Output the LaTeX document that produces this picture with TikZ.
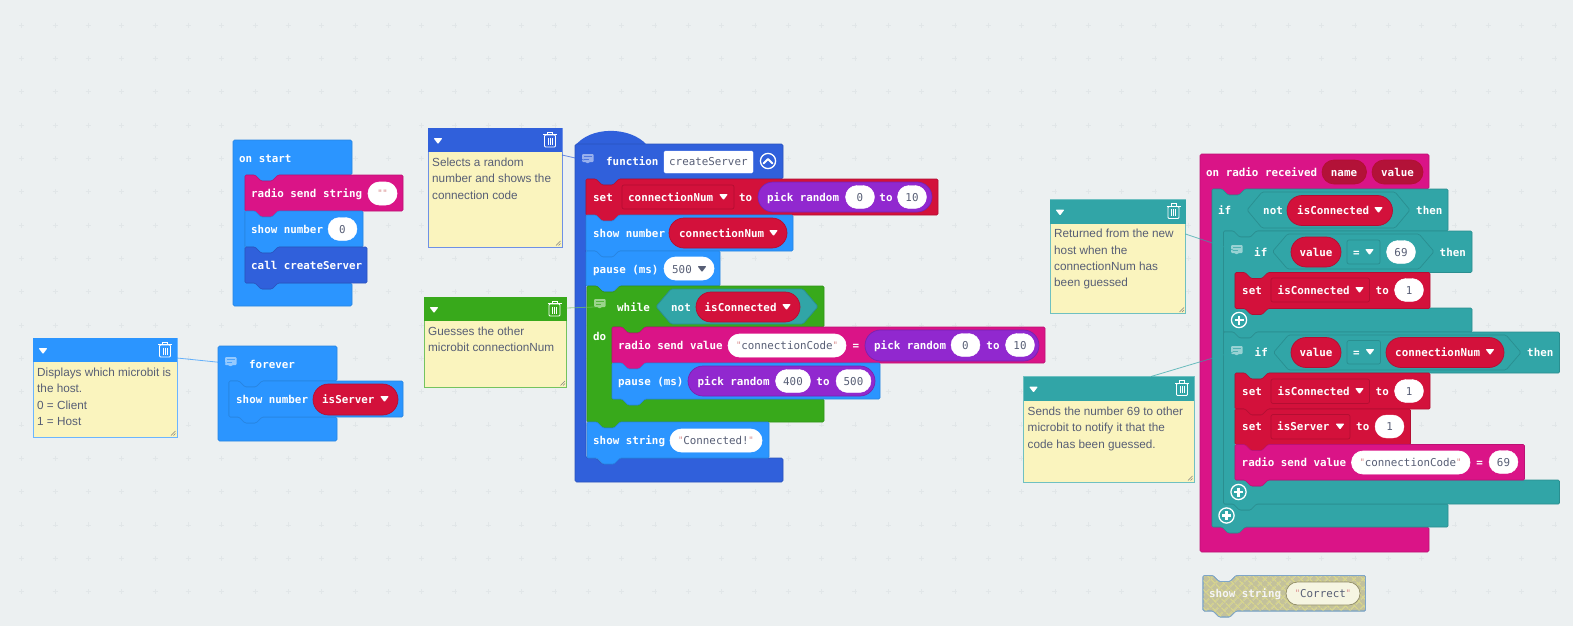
\documentclass[tikz,border=0pt]{standalone}
\usepackage{fontspec}
\setmainfont{Liberation Sans}
\newfontfamily\blockfont{DejaVu Sans Mono}
\usepackage{tikz}
\usetikzlibrary{patterns.meta}

\definecolor{canvasbg}{HTML}{ECF0F1}
\definecolor{canvasmark}{HTML}{E1E6E8}
\definecolor{basicblue}{HTML}{2B95FF}
\definecolor{basicedge}{HTML}{2784E0}
\definecolor{radiopink}{HTML}{DA1487}
\definecolor{radioedge}{HTML}{BC1174}
\definecolor{varred}{HTML}{D3113B}
\definecolor{varedge}{HTML}{B30E32}
\definecolor{argred}{HTML}{B31238}
\definecolor{funcblue}{HTML}{3060DB}
\definecolor{funcedge}{HTML}{2A52BD}
\definecolor{loopgreen}{HTML}{38A91B}
\definecolor{loopedge}{HTML}{309317}
\definecolor{mathpurple}{HTML}{9128CF}
\definecolor{mathedge}{HTML}{7A22AE}
\definecolor{logicteal}{HTML}{31A5A7}
\definecolor{logicedge}{HTML}{2A8E90}
\definecolor{notefill}{HTML}{FAF4BE}
\definecolor{fieldtext}{HTML}{575E75}
\definecolor{quotemark}{HTML}{D98A8A}
\definecolor{offblock}{HTML}{C3C19B}
\definecolor{offhatch}{HTML}{D8D68C}
\definecolor{offedge}{HTML}{7FA6C8}

\tikzset{
  basicblk/.style={fill=basicblue,draw=basicedge},
  radioblk/.style={fill=radiopink,draw=radioedge},
  varblk/.style={fill=varred,draw=varedge},
  funcblk/.style={fill=funcblue,draw=funcedge},
  loopblk/.style={fill=loopgreen,draw=loopedge},
  mathblk/.style={fill=mathpurple,draw=mathedge},
  logicblk/.style={fill=logicteal,draw=logicedge},
  argblk/.style={fill=argred,draw=varedge},
  whiteblk/.style={fill=white,draw=white},
  blocklabel/.style={anchor=west,inner sep=0pt,text=white,text height=8pt,text depth=0pt,
    font=\blockfont\fontsize{10.85}{13}\selectfont\bfseries},
  fieldlabel/.style={anchor=west,inner sep=0pt,text=fieldtext,text height=8pt,text depth=0pt,
    font=\blockfont\fontsize{10.85}{13}\selectfont},
  midlabel/.style={blocklabel,anchor=center},
  numlabel/.style={fieldlabel,anchor=center},
  notelabel/.style={anchor=north west,inner sep=0pt,text=fieldtext,align=left,
    font=\fontsize{11.75}{16.4}\selectfont},
  notelink/.style={line width=0.8pt,opacity=0.7},
}

% quotes of a string field
\newcommand{\qmark}{\textcolor{quotemark}{\makebox[5pt]{\raisebox{1pt}{\small"}}}}
\newcommand{\qtext}[1]{\qmark#1\qmark}

% statement block, with notch on top and tab below
\newcommand{\stackshape}[5]{
  \draw[#5,line width=0.6pt,rounded corners=1.2pt] (#1,#2) -- (#1+10,#2) -- (#1+16,#2+6) -- (#1+27,#2+6) -- (#1+33,#2)
    -- (#3,#2) -- (#3,#4) -- (#1+33,#4) -- (#1+27,#4+6) -- (#1+16,#4+6) -- (#1+10,#4) -- (#1,#4) -- cycle;
}
% event block: flat top, no tab
\newcommand{\hatshape}[9]{
  \draw[#9,line width=0.6pt,rounded corners=1.5pt] (#1,#2) -- (#3,#2) -- (#3,#4) -- (#5+33,#4) -- (#5+27,#4+6) -- (#5+16,#4+6) -- (#5+10,#4) -- (#5,#4)
    -- (#5,#6) -- (#5+10,#6) -- (#5+16,#6+6) -- (#5+27,#6+6) -- (#5+33,#6) -- (#7,#6) -- (#7,#8) -- (#1,#8) -- cycle;
}
% while / if block: notch on top, tab below
\newcommand{\loopshape}[9]{
  \draw[#9,line width=0.6pt,rounded corners=1.2pt] (#1,#2) -- (#1+10,#2) -- (#1+16,#2+6) -- (#1+27,#2+6) -- (#1+33,#2) -- (#3,#2) -- (#3,#4) -- (#5+33,#4) -- (#5+27,#4+6) -- (#5+16,#4+6) -- (#5+10,#4) -- (#5,#4)
    -- (#5,#6) -- (#5+10,#6) -- (#5+16,#6+6) -- (#5+27,#6+6) -- (#5+33,#6) -- (#7,#6) -- (#7,#8) -- (#1+33,#8) -- (#1+27,#8+6) -- (#1+16,#8+6) -- (#1+10,#8) -- (#1,#8) -- cycle;
}
% round field
\newcommand{\pillshape}[5]{
  \pgfmathsetmacro{\pillrad}{(#4-#2)/2}
  \draw[#5,line width=0.7pt,rounded corners=\pillrad pt] (#1,#2) rectangle (#3,#4);
}
% number field, centred
\newcommand{\numfield}[5][29]{
  \pgfmathsetmacro{\pillrad}{11.5}
  \draw[whiteblk,rounded corners=\pillrad pt] (#3-#1/2,#4-11.5) rectangle (#3+#1/2,#4+11.5);
  \node[numlabel] (#2) at (#3,#4) {#5};
}
% square dropdown
\newcommand{\dropshape}[5]{
  \draw[#5,line width=0.7pt,rounded corners=2pt] (#1,#2) rectangle (#3,#4);
}
% boolean hexagon
\newcommand{\hexshape}[5]{
  \draw[#5,line width=0.7pt,rounded corners=1.5pt] (#1,{(#2+#4)/2}) -- (#1+15,#2) -- (#3-15,#2) -- (#3,{(#2+#4)/2}) -- (#3-15,#4) -- (#1+15,#4) -- cycle;
}
\newcommand{\caretmark}[3]{
  \fill[#3,rounded corners=0.7pt] (#1-4.4,#2-2.8) -- (#1+4.4,#2-2.8) -- (#1,#2+3) -- cycle;
}
\newcommand{\commenticon}[3]{
  \fill[white,opacity=0.5,rounded corners=1pt] (#1,#2) -- (#1+11.5,#2) -- (#1+11.5,#2+8) -- (#1+7,#2+8) -- (#1+5.5,#2+10) -- (#1+4,#2+8) -- (#1,#2+8) -- cycle;
  \draw[#3,opacity=0.7,line width=0.7pt] (#1+2,#2+2.7) -- (#1+9.5,#2+2.7) (#1+2,#2+5) -- (#1+7,#2+5);
}
\newcommand{\plusmark}[2]{
  \draw[white,line width=1.3pt] (#1,#2) circle (7.6pt);
  \draw[white,line width=2.2pt] (#1-4.5,#2) -- (#1+4.5,#2) (#1,#2-4.5) -- (#1,#2+4.5);
}
\newcommand{\trashicon}[2]{
  \draw[white,line width=0.8pt,rounded corners=1pt] (#1+1.5,#2+4) rectangle (#1+12.5,#2+16);
  \draw[white,line width=0.8pt] (#1,#2+3.5) -- (#1+14,#2+3.5) (#1+4.5,#2+3.5) -- (#1+4.5,#2+1) -- (#1+9.5,#2+1) -- (#1+9.5,#2+3.5);
  \draw[white,line width=1pt] (#1+5,#2+6.5) -- (#1+5,#2+13.5) (#1+7,#2+6.5) -- (#1+7,#2+13.5) (#1+9,#2+6.5) -- (#1+9,#2+13.5);
}
% sticky note: name, x1, y1, x2, y2, header bottom, colour, text
\newcommand{\stickynote}[8]{
  \draw[fill=notefill,draw=#7!70!white,line width=0.9pt] (#2,#3) rectangle (#4,#5);
  \fill[#7] (#2,#3) rectangle (#4,#6);
  \node[notelabel] (#1) at (#2+4,#6+5.5) {#8};
  \caretmark{#2+10}{#3+13}{white}
  \trashicon{#4-19}{#3+3}
  \draw[gray,line width=0.5pt] (#4-1.5,#5-6) -- (#4-6,#5-1.5) (#4-1.5,#5-3.5) -- (#4-3.5,#5-1.5);
}

\begin{document}
\begin{tikzpicture}[x=1pt,y=-1pt]
    \useasboundingbox (0,0) rectangle (1573,626);
    \fill[canvasbg] (0,0) rectangle (1573,626);

    % canvas marks
    \foreach \gridx in {0,...,47}
      \foreach \gridy in {0,...,18}
        \draw[canvasmark,line width=0.7pt] (21.7+\gridx*33.33-2.5,-8.3+\gridy*33.33) -- ++(5,0) (21.7+\gridx*33.33,-8.3+\gridy*33.33-2.5) -- ++(0,5);

    % on start
    \hatshape{233}{140}{352}{175}{245}{283}{352}{306}{basicblk}
    \node[blocklabel] (onstart) at (239,158) {on start};
    \stackshape{245}{175}{403}{211}{radioblk}
    \node[blocklabel] (sendstring) at (251,193) {radio send string};
    \pillshape{368}{182}{397}{205}{whiteblk}
    \node[numlabel] (emptystring) at (382.5,193.5) {\qtext{}};
    \stackshape{245}{211}{363}{247}{basicblk}
    \node[blocklabel] (shownum) at (251,229) {show number};
    \numfield{shownumzero}{342.5}{229}{0}
    \stackshape{245}{247}{367}{283}{funcblk}
    \node[blocklabel] (callserver) at (251,265) {call createServer};

    % forever
    \hatshape{218}{346}{337}{381}{229}{417}{337}{441}{basicblk}
    \commenticon{225}{357}{basicblue}
    \node[blocklabel] (forever) at (249,364) {forever};
    \stackshape{229}{381}{403}{417}{basicblk}
    \node[blocklabel] (showserver) at (236,399) {show number};
    \pillshape{313}{384}{398}{415}{varblk}
    \node[blocklabel] (isserverpill) at (322,399) {isServer};
    \caretmark{384.5}{399}{white}

    % function createServer
    \fill[funcblue] (575,146) .. controls (590,126) and (630,126) .. (647,145);
    \hatshape{575}{144}{783}{179}{586}{458}{783}{482}{funcblk}
    \commenticon{582}{154}{funcblue}
    \node[blocklabel] (function) at (606,161) {function};
    \draw[whiteblk,rounded corners=1.5pt] (664,151) rectangle (753,173);
    \node[fieldlabel] (servername) at (669,161) {createServer};
    \draw[white,line width=1.3pt] (768,161) circle (7.6pt);
    \draw[white,line width=2pt,line cap=round,line join=round] (763.5,163.5) -- (768,159) -- (772.5,163.5);

    \stackshape{586}{179}{938}{215}{varblk}
    \node[blocklabel] (setnum) at (593,197) {set};
    \dropshape{622}{185}{734}{209}{varblk}
    \node[blocklabel] (setnumdrop) at (628,197) {connectionNum};
    \caretmark{723.5}{197}{white}
    \node[blocklabel] (setnumto) at (739,197) {to};
    \pillshape{758}{182}{932}{212}{mathblk}
    \node[blocklabel] (pickone) at (767,197) {pick random};
    \numfield{pickonelow}{860}{197}{0}
    \node[midlabel] (pickoneto) at (886,197) {to};
    \numfield{pickonehigh}{912}{197}{10}

    \stackshape{586}{215}{793}{251}{basicblk}
    \node[blocklabel] (shownumcode) at (593,233) {show number};
    \pillshape{669}{218}{787}{248}{varblk}
    \node[blocklabel] (numcodepill) at (679,233) {connectionNum};
    \caretmark{773.5}{233}{white}

    \stackshape{586}{251}{720}{286}{basicblk}
    \node[blocklabel] (pausefive) at (593,269) {pause (ms)};
    \pillshape{664}{257}{714}{280}{whiteblk}
    \node[fieldlabel] (pausefiveval) at (672,269) {500};
    \caretmark{702}{269}{fieldtext}

    % while loop
    \loopshape{587}{286}{824}{327}{612}{399}{824}{422}{loopblk}
    \commenticon{594}{299}{loopgreen}
    \node[blocklabel] (whilelbl) at (617,307) {while};
    \node[blocklabel] (dolbl) at (593,336) {do};
    \hexshape{656}{289}{818}{324}{fill=logicteal,draw=logicedge}
    \node[blocklabel] (whilenot) at (671,307) {not};
    \pillshape{696}{292}{800}{322}{varblk}
    \node[blocklabel] (whileconn) at (704.5,307) {isConnected};
    \caretmark{786.5}{307}{white}

    \stackshape{612}{327}{1045}{363}{radioblk}
    \node[blocklabel] (sendvalue) at (618,345) {radio send value};
    \pillshape{728}{334}{846}{357}{whiteblk}
    \node[numlabel] (sendvaluecode) at (787,345) {\qtext{connectionCode}};
    \node[midlabel] (sendvalueeq) at (856,345) {=};
    \pillshape{865}{330}{1039}{361}{mathblk}
    \node[blocklabel] (picktwo) at (874,345) {pick random};
    \numfield{picktwolow}{965.5}{345}{0}
    \node[midlabel] (picktwoto) at (993,345) {to};
    \numfield{picktwohigh}{1020}{345}{10}

    \stackshape{612}{363}{880}{399}{basicblk}
    \node[blocklabel] (pauserand) at (618,381) {pause (ms)};
    \pillshape{688}{366}{875}{396}{mathblk}
    \node[blocklabel] (pickthree) at (697.5,381) {pick random};
    \numfield[35]{pickthreelow}{793}{381}{400}
    \node[midlabel] (pickthreeto) at (823,381) {to};
    \numfield[35]{pickthreehigh}{853.5}{381}{500}

    \stackshape{587}{422}{769}{458}{basicblk}
    \node[blocklabel] (showconn) at (593,440) {show string};
    \pillshape{670}{429}{762}{452}{whiteblk}
    \node[numlabel] (showconnval) at (716,440) {\qtext{Connected!}};

    % on radio received
    \hatshape{1200}{154}{1429}{189}{1212}{527}{1429}{552}{radioblk}
    \node[blocklabel] (onradio) at (1206,172) {on radio received};
    \pillshape{1322}{160}{1366.5}{184}{argblk}
    \node[midlabel] (argname) at (1344,172) {name};
    \pillshape{1372}{160}{1423}{184}{argblk}
    \node[midlabel] (argvalue) at (1397.5,172) {value};

    % outer if
    \loopshape{1212}{189}{1448}{231}{1223.5}{504}{1448}{527}{logicblk}
    \node[blocklabel] (ifouter) at (1218,210) {if};
    \hexshape{1247}{192}{1410}{228}{logicblk}
    \node[blocklabel] (ifnot) at (1263,210) {not};
    \pillshape{1287}{195.5}{1392.5}{225.5}{varblk}
    \node[blocklabel] (ifconn) at (1297,210) {isConnected};
    \caretmark{1378.5}{210}{white}
    \node[blocklabel] (thenouter) at (1416,210) {then};
    \plusmark{1226.5}{515.5}

    % first inner if
    \loopshape{1223.5}{231}{1472}{272.5}{1235}{308}{1472}{332}{logicblk}
    \commenticon{1231}{245}{logicteal}
    \node[blocklabel] (ifguess) at (1254,252) {if};
    \hexshape{1272.5}{234}{1434}{269}{logicblk}
    \pillshape{1291}{237}{1341}{267}{varblk}
    \node[midlabel] (guessvalue) at (1316,252) {value};
    \dropshape{1347}{240}{1380}{264}{logicblk}
    \node[blocklabel] (guesseq) at (1353,252) {=};
    \caretmark{1369.5}{252}{white}
    \numfield{guessnum}{1401}{252}{69}
    \node[blocklabel] (thenguess) at (1439.5,252) {then};
    \stackshape{1235}{272.5}{1430}{308.5}{varblk}
    \node[blocklabel] (setconn) at (1242,290) {set};
    \dropshape{1271}{278}{1369.5}{302}{varblk}
    \node[blocklabel] (setconndrop) at (1277.5,290) {isConnected};
    \caretmark{1359.5}{290}{white}
    \node[blocklabel] (setconnto) at (1375.5,290) {to};
    \numfield{setconnval}{1409}{290}{1}
    \plusmark{1239}{320}

    % second inner if
    \loopshape{1223.5}{332}{1559.5}{373}{1235}{480}{1559.5}{504}{logicblk}
    \commenticon{1231}{346}{logicteal}
    \node[blocklabel] (ifcode) at (1254.5,352) {if};
    \hexshape{1273.5}{335}{1521}{370}{logicblk}
    \pillshape{1291}{337.5}{1341}{367.5}{varblk}
    \node[midlabel] (codevalue) at (1316,352) {value};
    \dropshape{1347}{340.5}{1380.5}{364}{logicblk}
    \node[blocklabel] (codeeq) at (1353,352) {=};
    \caretmark{1370}{352}{white}
    \pillshape{1386}{337.5}{1504}{367.5}{varblk}
    \node[blocklabel] (codenum) at (1395,352) {connectionNum};
    \caretmark{1490}{352}{white}
    \node[blocklabel] (thencode) at (1527,352) {then};

    \stackshape{1235}{373}{1430}{409}{varblk}
    \node[blocklabel] (setconntwo) at (1242,391) {set};
    \dropshape{1271}{379}{1369.5}{403.5}{varblk}
    \node[blocklabel] (setconntwodrop) at (1277.5,391) {isConnected};
    \caretmark{1359.5}{391}{white}
    \node[blocklabel] (setconntwoto) at (1375.5,391) {to};
    \numfield{setconntwoval}{1409}{391}{1}

    \stackshape{1235}{409}{1410.5}{444.5}{varblk}
    \node[blocklabel] (setserver) at (1242,426.5) {set};
    \dropshape{1271}{414.5}{1350}{439}{varblk}
    \node[blocklabel] (setserverdrop) at (1277,426.5) {isServer};
    \caretmark{1340}{426.5}{white}
    \node[blocklabel] (setserverto) at (1356,426.5) {to};
    \numfield{setserverval}{1389.5}{426.5}{1}

    \stackshape{1235}{444.5}{1524.5}{480}{radioblk}
    \node[blocklabel] (sendnine) at (1241.5,462) {radio send value};
    \pillshape{1351.5}{451}{1470}{474}{whiteblk}
    \node[numlabel] (sendninecode) at (1410.5,462) {\qtext{connectionCode}};
    \node[midlabel] (sendnineeq) at (1479.5,462) {=};
    \numfield{sendnineval}{1503.5}{462}{69}
    \plusmark{1238.5}{492}

    % disabled show string
    \stackshape{1203}{575.5}{1365.5}{611}{fill=offblock,draw=offedge}
    \stackshape{1203}{575.5}{1365.5}{611}{pattern={Lines[angle=45,distance=6.5pt,line width=1.2pt]},pattern color=offhatch,draw=offedge}
    \stackshape{1203}{575.5}{1365.5}{611}{pattern={Lines[angle=-45,distance=6.5pt,line width=1.2pt]},pattern color=offhatch,draw=offedge}
    \node[blocklabel,text=white!92!gray] (showcorrect) at (1209,593) {show string};
    \draw[fill=white!92!olive,draw=gray!70!olive,line width=0.7pt,rounded corners=11.5pt] (1286,582) rectangle (1360,605);
    \node[numlabel] (showcorrectval) at (1323,593) {\qtext{Correct}};

    % notes
    \stickynote{hostnote}{33}{338}{177}{437}{362}{basicblue}{Displays which microbit is\\the host.\\0 = Client\\1 = Host}
    \stickynote{servernote}{428}{128}{562}{247}{152}{funcblue}{Selects a random\\number and shows the\\connection code}
    \stickynote{guessnote}{424}{297}{566.5}{387}{321}{loopgreen}{Guesses the other\\microbit connectionNum}
    \stickynote{returnnote}{1050}{199.5}{1185.5}{313.5}{223.5}{logicteal}{Returned from the new\\host when the\\connectionNum has\\been guessed}
    \stickynote{sendnote}{1023.5}{376.5}{1194}{482}{401}{logicteal}{Sends the number 69 to other\\microbit to notify it that the\\code has been guessed.}

    % comment links
    \coordinate (hostlink) at (177,358);
    \coordinate (forevericon) at (226,363);
    \coordinate (serverlink) at (562,155);
    \coordinate (functionicon) at (584,160);
    \coordinate (guesslink) at (566.5,308);
    \coordinate (whileicon) at (595,307);
    \coordinate (returnlink) at (1185.5,234);
    \coordinate (guessicon) at (1233,250);
    \coordinate (sendlink) at (1151,376.5);
    \coordinate (codeicon) at (1233,352);
    \draw[notelink,basicblue] (hostlink) -- (forevericon);
    \draw[notelink,funcblue] (serverlink) -- (functionicon);
    \draw[notelink,loopgreen!70!white] (guesslink) -- (whileicon);
    \draw[notelink,logicteal] (returnlink) -- (guessicon);
    \draw[notelink,logicteal] (sendlink) -- (codeicon);

\end{tikzpicture}
\end{document}
